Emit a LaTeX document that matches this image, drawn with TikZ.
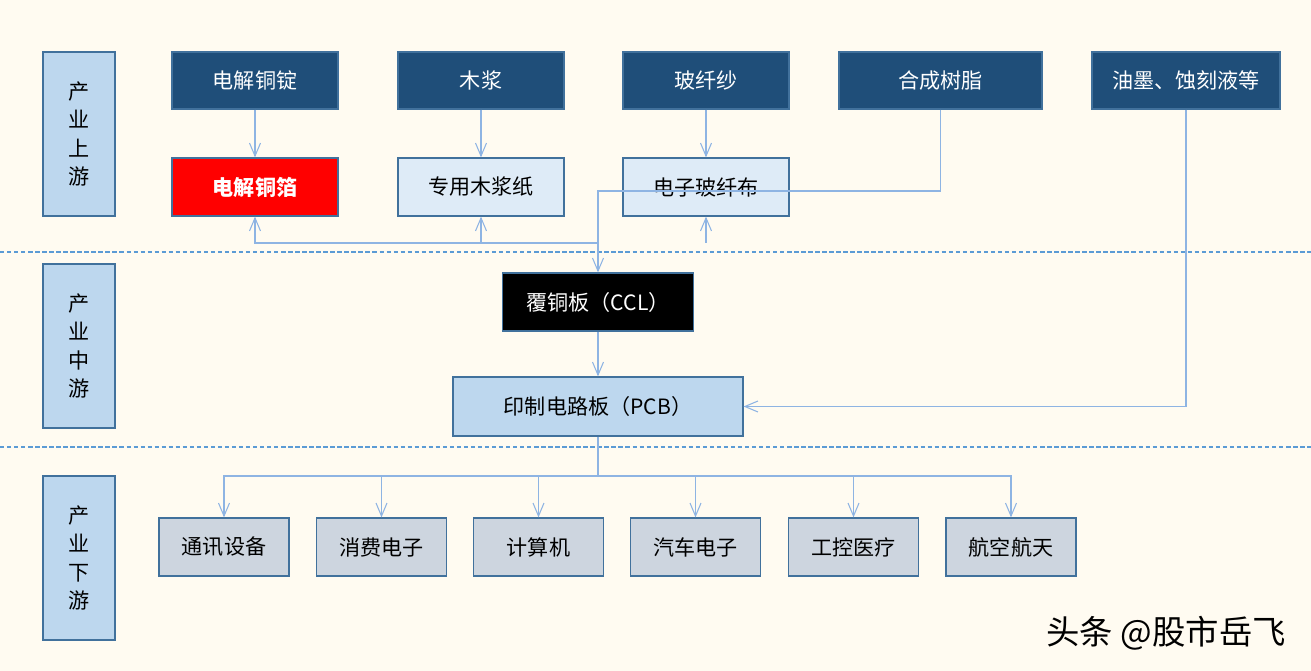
\documentclass[tikz,border=0pt]{standalone}
\usepackage{fontspec}
\newfontfamily\cjk{Noto Sans CJK SC}
\usetikzlibrary{arrows.meta,positioning}

\definecolor{bgcream}{HTML}{FFFBF1}
\definecolor{darkblue}{HTML}{1F4E79}
\definecolor{edgeblue}{HTML}{41719C}
\definecolor{stagefill}{HTML}{BDD7EE}
\definecolor{palefill}{HTML}{DEEBF7}
\definecolor{grayfill}{HTML}{CDD5DF}
\definecolor{linkblue}{HTML}{8EB4E3}
\definecolor{sepblue}{HTML}{5B9BD5}

\begin{document}
\begin{tikzpicture}[
    x=0.02cm, y=-0.02cm,
    font=\cjk\fontsize{12}{14}\selectfont,
    stagebox/.style={draw=edgeblue, fill=stagefill, line width=0.7pt, minimum width=1.44cm, minimum height=3.28cm, align=center, font=\cjk\fontsize{12}{16}\selectfont},
    rawbox/.style={draw=edgeblue, fill=darkblue, text=white, line width=0.7pt, minimum width=3.32cm, minimum height=1.14cm},
    matbox/.style={draw=edgeblue, fill=palefill, line width=0.7pt, minimum width=3.32cm, minimum height=1.16cm},
    midbox/.style={draw=edgeblue, line width=0.7pt, minimum height=1.16cm},
    appbox/.style={draw=edgeblue, fill=grayfill, line width=0.7pt, minimum width=2.6cm, minimum height=1.16cm},
    arrow/.style={-{Straight Barb[length=2.6mm, width=2.2mm]}, draw=linkblue, line width=0.6pt},
    link/.style={draw=linkblue, line width=0.6pt},
    sep/.style={draw=sepblue, line width=0.6pt, dash pattern=on 2.5pt off 1.5pt}
]

    % fond et limites
    \fill[bgcream] (0,0) rectangle (1311,671);
    \useasboundingbox (0,0) rectangle (1311,671);

    % lignes de separation
    \draw[sep] (0,252) -- (1311,252);
    \draw[sep] (0,447) -- (1311,447);

    % Etapes (colonne gauche)
    \node[stagebox] (upstream) at (79,134) {产\\业\\上\\游};
    \node[stagebox] (midstream) at (79,346) {产\\业\\中\\游};
    \node[stagebox] (downstream) at (79,558) {产\\业\\下\\游};

    % Matieres premieres (Ligne 1)
    \node[rawbox] (ingot) at (255,80.5) {电解铜锭};
    \node[rawbox] (pulp) at (481,80.5) {木浆};
    \node[rawbox] (yarn) at (706,80.5) {玻纤纱};
    \node[rawbox, minimum width=4.06cm] (resin) at (940.5,80.5) {合成树脂};
    \node[rawbox, minimum width=3.76cm] (ink) at (1186,80.5) {油墨、蚀刻液等};

    % Materiaux (Ligne 2)
    \node[matbox, fill=red, text=white, font=\cjk\bfseries\fontsize{12}{14}\selectfont] (foil) at (255,187) {电解铜箔};
    \node[matbox] (paper) at (481,187) {专用木浆纸};
    \node[matbox] (cloth) at (706,187) {电子玻纤布};

    % Milieu de chaine
    \node[midbox, fill=black, text=white, minimum width=3.82cm] (ccl) at (598,302) {覆铜板（CCL）};
    \node[midbox, fill=stagefill, minimum width=5.8cm, minimum height=1.18cm] (pcb) at (598,406.5) {印制电路板（PCB）};

    % Applications (Ligne 4)
    \node[appbox] (telecom) at (224,547) {通讯设备};
    \node[appbox] (consumer) at (381.5,547) {消费电子};
    \node[appbox] (computer) at (538.5,547) {计算机};
    \node[appbox] (auto) at (695.5,547) {汽车电子};
    \node[appbox] (medical) at (853.5,547) {工控医疗};
    \node[appbox] (aero) at (1011,547) {航空航天};

    % Points de jonction
    \coordinate (resinbend) at (598,191);
    \coordinate (cclbus) at (598,243);
    \coordinate (clothtail) at (706,243);
    \coordinate (pcbbus) at (598,476);

    % Liens amont
    \draw[arrow] (ingot) -- (foil);
    \draw[arrow] (pulp) -- (paper);
    \draw[arrow] (yarn) -- (cloth);
    \draw[arrow] (resin.south) |- (resinbend) -- (ccl.north);
    \draw[arrow] (cclbus) -| (foil.south);
    \draw[arrow] (cclbus) -| (paper.south);
    \draw[arrow] (clothtail) -- (cloth.south);

    % Liens milieu
    \draw[arrow] (ccl) -- (pcb);
    \draw[arrow] (ink.south) |- (pcb.east);

    % Liens aval
    \draw[link] (pcb.south) -- (pcbbus);
    \foreach \app in {telecom,consumer,computer,auto,medical,aero}
        \draw[arrow] (pcbbus) -| (\app.north);

    % Filigrane
    \node[font=\cjk\fontsize{19}{22}\selectfont, anchor=east] (mark) at (1292,633) {头条 @股市岳飞};

\end{tikzpicture}
\end{document}
